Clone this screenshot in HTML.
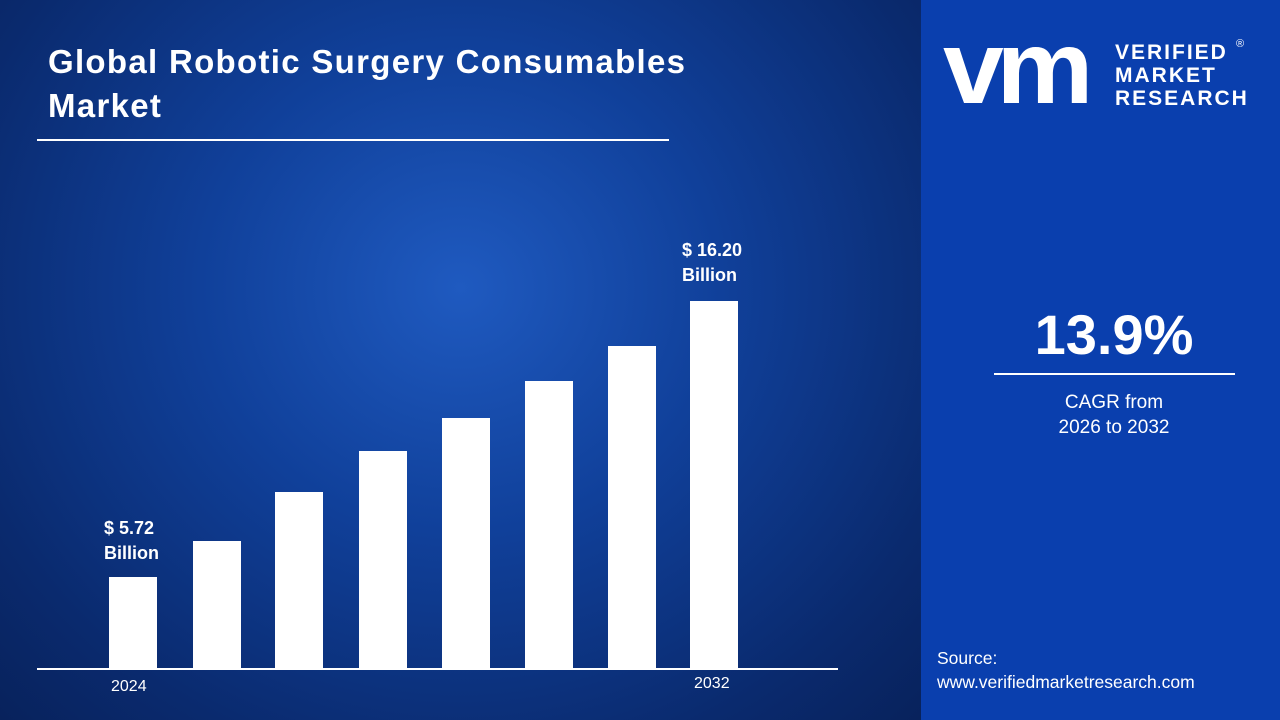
<!DOCTYPE html><html><head><style>
body{margin:0;width:1280px;height:720px;overflow:hidden;font-family:"Liberation Sans","DejaVu Sans",sans-serif;}
#l{position:absolute;left:0;top:0;width:921px;height:720px;background:radial-gradient(ellipse at 50% 40%,#1f5ac0 0%,#10409a 40%,#0a2a6e 80%,#08225c 100%);}
#r{position:absolute;left:921px;top:0;width:359px;height:720px;background:#0a3fae;color:#fff;}
.b{position:absolute;background:#fff;width:48px;}
.t{position:absolute;color:#fff;}
</style></head><body>
<div id="l">
<div class="t" style="left:48px;top:40px;font-size:33px;font-weight:bold;line-height:44px;letter-spacing:1.3px;">Global Robotic Surgery Consumables<br>Market</div>
<div style="position:absolute;left:37px;top:139px;width:632px;height:2px;background:#fff"></div>
<div class="b" style="left:109px;top:577px;height:92px"></div>
<div class="b" style="left:193px;top:541px;height:128px"></div>
<div class="b" style="left:275px;top:492px;height:177px"></div>
<div class="b" style="left:359px;top:451px;height:218px"></div>
<div class="b" style="left:442px;top:418px;height:251px"></div>
<div class="b" style="left:525px;top:381px;height:288px"></div>
<div class="b" style="left:608px;top:346px;height:323px"></div>
<div class="b" style="left:690px;top:301px;height:368px"></div>
<div style="position:absolute;left:37px;top:668px;width:801px;height:2px;background:#fff"></div>
<div class="t" style="left:104px;top:516px;font-size:18px;font-weight:bold;line-height:25px;">$ 5.72<br>Billion</div>
<div class="t" style="left:682px;top:238px;font-size:18px;font-weight:bold;line-height:25px;">$ 16.20<br>Billion</div>
<div class="t" style="left:111px;top:678px;font-size:16px;">2024</div>
<div class="t" style="left:694px;top:675px;font-size:16px;">2032</div>
</div>
<div id="r">
<div style="position:absolute;left:22px;top:18px;font-size:104px;font-weight:bold;letter-spacing:-7px;line-height:100px;transform:scaleX(1.05);transform-origin:left">vm</div>
<div style="position:absolute;left:194px;top:41px;font-size:21px;font-weight:bold;letter-spacing:2px;line-height:23px;">VERIFIED<br>MARKET<br>RESEARCH</div>
<div style="position:absolute;left:315px;top:38px;font-size:11px">®</div>
<div style="position:absolute;left:0;width:386px;top:302px;text-align:center;font-size:56px;font-weight:bold;">13.9%</div>
<div style="position:absolute;left:73px;top:373px;width:241px;height:2px;background:#fff"></div>
<div style="position:absolute;left:0;width:386px;top:390px;text-align:center;font-size:19px;line-height:25px;">CAGR from<br>2026 to 2032</div>
<div style="position:absolute;left:16px;top:646px;font-size:17.5px;line-height:24px;">Source:<br>www.verifiedmarketresearch.com</div>
</div>
</body></html>
